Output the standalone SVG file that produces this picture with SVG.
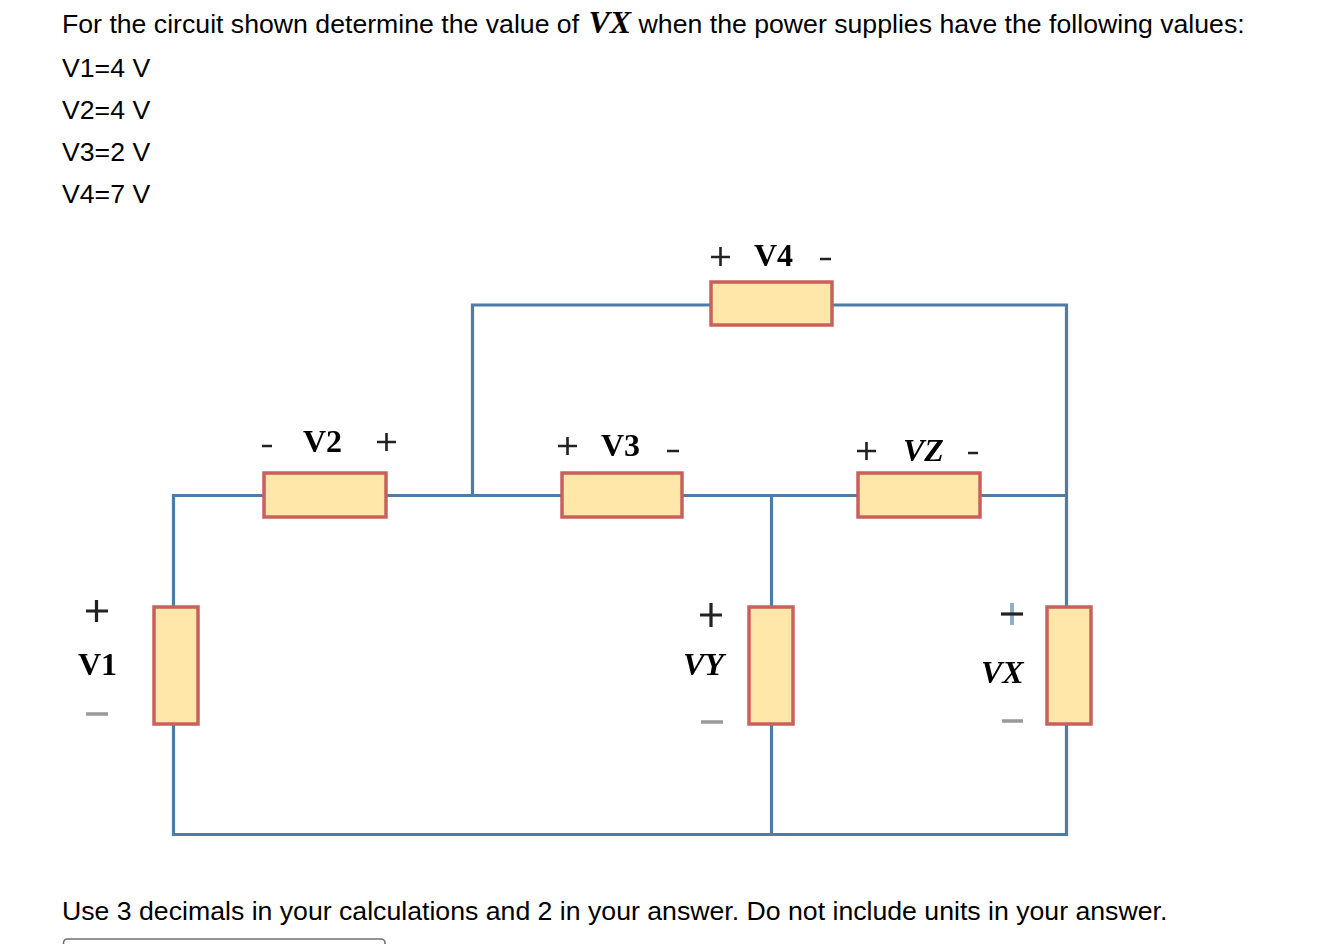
<svg xmlns="http://www.w3.org/2000/svg" width="1344" height="944" viewBox="0 0 1344 944">
<defs><filter id="soft" x="-5%" y="-5%" width="110%" height="110%"><feGaussianBlur stdDeviation="0.55"/></filter></defs>
<style>
.t{font-family:"Liberation Sans",Arial,sans-serif;font-size:26.67px;fill:#000}
.l{font-family:"Liberation Serif","Times New Roman",serif;font-size:32px;font-weight:bold;fill:#000}
.li{font-style:italic}
.r{fill:#fee7a8;stroke:#c9605c;stroke-width:3.5}
.w{fill:none;stroke:#4d7ba6;stroke-width:3.2}
.g{stroke:#999;stroke-width:3.5}
.p{stroke:#222;stroke-width:2.6}
.b{stroke:#222;stroke-width:3.2}
</style>
<rect width="1344" height="944" fill="#fff"/>
<g id="text">
<text class="t" x="62" y="33">For the circuit shown determine the value of <tspan dx="2" font-family="Liberation Serif" font-size="32" font-weight="bold" font-style="italic">VX</tspan> when the power supplies have the following values:</text>
<text class="t" x="62" y="77">V1=4 V</text>
<text class="t" x="62" y="119">V2=4 V</text>
<text class="t" x="62" y="161">V3=2 V</text>
<text class="t" x="62" y="203">V4=7 V</text>
<text class="t" x="62" y="920">Use 3 decimals in your calculations and 2 in your answer. Do not include units in your answer.</text>
</g>
<g id="connectors" filter="url(#soft)">
<path class="w" d="M173.500 606V495.500H264M386 495.500H561M682 495.500H858M980 495.500H1066.500M472.500 495.500V305H711M832 305H1066.500V606M771.500 495.500V606M173.500 725V834.500H1066.500V725M771.500 725V834.500"/>
</g>
<g id="V1" filter="url(#soft)"><rect class="r" x="154" y="607" width="44" height="117"/><text class="l" x="78" y="675">V1</text><path class="b" d="M86 611H108M96.500 600V622"/><path class="g" d="M86 714H108"/></g>
<g id="V2" filter="url(#soft)"><rect class="r" x="264" y="473" width="122" height="44"/><text class="l" x="303" y="452">V2</text><path class="p" d="M262 446H272M377 442H396M386.500 433V451"/></g>
<g id="V3" filter="url(#soft)"><rect class="r" x="562" y="473" width="120" height="44"/><text class="l" x="601" y="456">V3</text><path class="p" d="M558 446H577M567.500 437V455M667 451H679"/></g>
<g id="V4" filter="url(#soft)"><rect class="r" x="711" y="282" width="121" height="43"/><text class="l" x="754" y="266">V4</text><path class="p" d="M711 257H730M720.500 247V266M820 259H831"/></g>
<g id="VZ" filter="url(#soft)"><rect class="r" x="858" y="473" width="122" height="44"/><text class="l li" x="903" y="461">VZ</text><path class="p" d="M857 451H876M866.500 442V460M968 453H978"/></g>
<g id="VY" filter="url(#soft)"><rect class="r" x="749" y="607" width="44" height="117"/><text class="l li" x="683" y="675">VY</text><path class="b" d="M700 615H722M711 603V627"/><path class="g" d="M701 722H723"/></g>
<g id="VX" filter="url(#soft)"><rect class="r" x="1047" y="607" width="44" height="117"/><text class="l li" x="981" y="683">VX</text><path stroke="#8fb0c8" stroke-width="4" d="M1012 603V625"/><path class="b" d="M1001 614H1023"/><path class="g" d="M1002 721H1023"/></g>
<g id="input"><path d="M63.500 944V943a4 4 0 0 1 4-4H381a4 4 0 0 1 4 4v1" fill="none" stroke="#707070" stroke-width="1.600"/></g>
</svg>
